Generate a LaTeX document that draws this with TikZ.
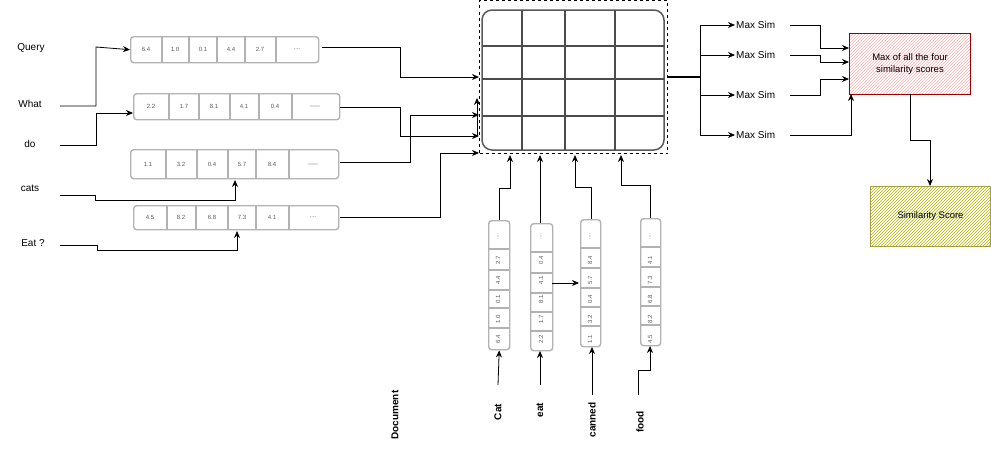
\documentclass[tikz,border=0pt]{standalone}
\usepackage{fontspec}
\setmainfont{Liberation Sans}
\usetikzlibrary{patterns,arrows.meta}
\begin{document}
\begin{tikzpicture}[x=1pt,y=-1pt,
  lbl/.style={font=\fontsize{10}{11}\selectfont},
  blbl/.style={font=\bfseries\fontsize{10}{11}\selectfont,rotate=90},
  vec/.style={draw=gray!60,line width=1.4pt,rounded corners=3pt},
  cell/.style={draw=gray!60,line width=1.1pt},
  num/.style={font=\fontsize{6}{6}\selectfont,text=gray!70!black},
  arr/.style={-{Stealth[length=7pt,width=6pt]},line width=0.8pt},
  ln/.style={line width=0.8pt}]
\useasboundingbox (0,0) rectangle (991,455);
\def\fd{....}
\def\ul{\_\_\_}
\def\drawhvec#1#2#3#4#5#6{%
  \node[vec,minimum width=#3-#2,minimum height=#5-#4,inner sep=0,anchor=north west] (#1) at (#2,#4) {};
  \foreach \c in {#6}{\draw[cell] (\c,#4) -- (\c,#5);}
}
\drawhvec{q1}{130}{318}{36}{62}{162,189,217,245,276}
\drawhvec{q2}{133}{339}{93}{119}{169,199,230,259,292}
\drawhvec{q3}{130}{338}{149}{178}{166,197,228,256,289}
\drawhvec{q4}{133}{338}{205}{229}{167,196,228,256,289}
\foreach \x/\t in {146/6.4,175/1.0,203/0.1,231/4.4,260/2.7,297/\fd}\node[num] at (\x,49) {\t};
\foreach \x/\t in {151/2.2,184/1.7,214/8.1,244/4.1,275/0.4,315/\ul}\node[num] at (\x,106) {\t};
\foreach \x/\t in {148/1.1,181/3.2,212/0.4,242/5.7,272/8.4,313/\ul}\node[num] at (\x,164) {\t};
\foreach \x/\t in {150/4.5,181/8.2,212/6.8,242/7.3,272/4.1,313/\fd}\node[num] at (\x,217) {\t};
\def\drawvvec#1#2#3#4#5#6{%
  \node[vec,minimum width=#3-#2,minimum height=#5-#4,inner sep=0,anchor=north west] (#1) at (#2,#4) {};
  \foreach \c in {#6}{\draw[cell] (#2,\c) -- (#3,\c);}
}
\drawvvec{d1}{488}{509}{220}{349}{249,270,290,308,328}
\drawvvec{d2}{530}{552}{223}{350}{252,273,293,312,331}
\drawvvec{d3}{580}{600}{219}{346}{248,268,288,307,326}
\drawvvec{d4}{640}{660}{218}{345}{247,267,287,306,325}
\foreach \vx/\a/\b/\c/\d/\e in {498/6.4/1.0/0.1/4.4/2.7, 541/2.2/1.7/8.1/4.1/0.4, 590/1.1/3.2/0.4/5.7/8.4, 650/4.5/8.2/6.8/7.3/4.1}{
  \node[num,rotate=90] at (\vx,339) {\a};
  \node[num,rotate=90] at (\vx,319) {\b};
  \node[num,rotate=90] at (\vx,299) {\c};
  \node[num,rotate=90] at (\vx,280) {\d};
  \node[num,rotate=90] at (\vx,260) {\e};
  \node[num,rotate=90] at (\vx,236) {\fd};
}
\node[lbl] (lq) at (31,48) {Query};
\node[lbl] (lw) at (30,104) {What};
\node[lbl] (ld) at (30,144) {do};
\node[lbl] (lc) at (30,188) {cats};
\node[lbl] (le) at (33,243) {Eat ?};
\node[blbl] (ldoc) at (395,415) {Document};
\node[blbl] (lcat) at (498,412) {Cat};
\node[blbl] (leat) at (540,410) {eat};
\node[blbl] (lcan) at (592,420) {canned};
\node[blbl] (lfood) at (640,422) {food};
\node[draw,dashed,line width=1pt,minimum width=188,minimum height=153,inner sep=0,anchor=north west] (M) at (479,0) {};
\draw[line width=1.5pt,draw=gray!70!black,rounded corners=10pt] (482,10) rectangle (664,150);
\foreach \x in {522,565,615}\draw[line width=1.5pt,draw=gray!60!black] (\x,10) -- (\x,150);
\foreach \y in {46,79,116}\draw[line width=1.5pt,draw=gray!60!black] (482,\y) -- (664,\y);
\draw[arr] (60,106) -- (96,106) -- (96,47) -- (q1.west);
\draw[arr] (60,145) -- (96,145) -- (96,113) -- (q2.west |- 0,113);
\draw[arr] (60,195) -- (95,195) -- (95,200) -- (235,200) -- (235,180);
\draw[arr] (60,245) -- (97,245) -- (97,250) -- (237,250) -- (237,231);
\draw[arr] (322,47) -- (400,47) -- (400,77) -- (M.west |- 0,77);
\draw[arr] (340,107) -- (400,107) -- (400,136) -- (M.west |- 0,136);
\draw[arr] (340,162) -- (410,162) -- (410,115) -- (M.west |- 0,115);
\draw[arr] (340,217) -- (440,217) -- (440,153) -- (M.west |- 0,153);
\draw[arr] (477,136) -- (477,98);
\draw[arr] (498,385) -- (d1.south);
\draw[arr] (540,385) -- (540,351);
\draw[arr] (592,395) -- (592,347);
\draw[arr] (638,395) -- (638,370) -- (650,370) -- (650,346);
\draw[arr] (552,283) -- (579,283);
\draw[arr] (499,220) -- (499,188) -- (510,188) -- (510,155);
\draw[arr] (540,223) -- (540,155);
\draw[arr] (591,219) -- (591,187) -- (575,187) -- (575,155);
\draw[arr] (650,218) -- (650,185) -- (621,185) -- (621,155);
\node[draw=red!60!black,line width=1pt,pattern=north east lines,pattern color=red!30,minimum width=121,minimum height=61,inner sep=0,anchor=north west] (B) at (849,33) {};
\node[font=\fontsize{9.5}{12}\selectfont,align=center] at (B.center) {Max of all the four\\similarity scores};
\node[draw=yellow!60!black,line width=1pt,pattern=north east lines,pattern color=yellow!70!black,minimum width=120,minimum height=60,inner sep=0,anchor=north west] (S) at (870,186) {};
\node[font=\fontsize{9.5}{11}\selectfont] at (S.center) {Similarity Score};
\foreach \n/\y in {m1/25,m2/55,m3/95,m4/135}{
  \node[lbl,anchor=west,inner sep=1pt] (\n) at (735,\y) {Max Sim};
  \draw[arr] (700,\y) -- (\n.west);
}
\draw[line width=1.4pt] (M.east |- 0,77) -- (700,77);
\draw[ln] (700,25) -- (700,135);
\draw[arr] (790,25) -- (820,25) -- (820,48) -- (849,48);
\draw[arr] (790,55) -- (820,55) -- (820,62) -- (849,62);
\draw[arr] (790,95) -- (820,95) -- (820,79) -- (849,79);
\draw[arr] (790,135) -- (851,135) -- (851,94);
\draw[arr] (910,94) -- (910,140) -- (930,140) -- (930,186);
\end{tikzpicture}
\end{document}
